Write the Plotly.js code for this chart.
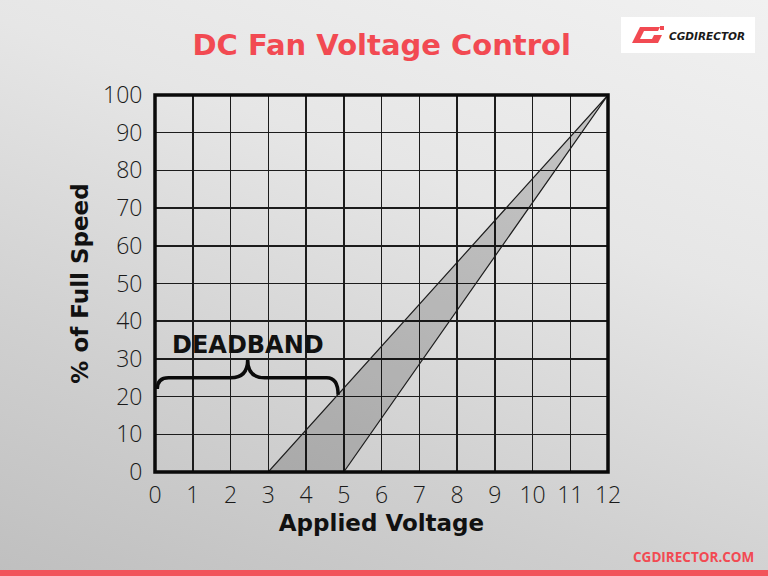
<!DOCTYPE html>
<html>
<head>
<meta charset="utf-8">
<script src="https://cdn.plot.ly/plotly-3.0.1.min.js"></script>
<style>
  html, body { margin: 0; padding: 0; }
  #chart {
    width: 768px; height: 576px;
    background: linear-gradient(200deg, #f1f1f1 0%, #e6e6e6 35%, #d0d0d0 70%, #bfbfbf 100%);
  }
</style>
</head>
<body>
<div id="chart"></div>
<script>
// ---- Data ----
const voltageTicks = [0,1,2,3,4,5,6,7,8,9,10,11,12];
const speedTicks = [0,10,20,30,40,50,60,70,80,90,100];
// Speed band polygon: start voltage range (3V .. 5V) reaching 100% at 12V
const bandVoltage = [3, 12, 5, 3];
const bandSpeed   = [0, 100, 0, 0];
// Deadband brace
const deadbandStart = 0.06;
const deadbandEnd = 4.85;
const deadbandLevel = 25;
const deadbandLabel = "DEADBAND";

const titleText = "DC Fan Voltage Control";
const xTitle = "Applied Voltage";
const yTitle = "% of Full Speed";

// ---- Layout helpers ----
const L = 155, R = 160, T = 95, B = 104;
const W = 768, H = 576;
const pw = W - L - R, ph = H - T - B;
const px = v => (v - L) / pw;
const py = v => (H - B - v) / ph;

const mid = (deadbandStart + deadbandEnd) / 2;
const bracePath =
  `M ${deadbandStart},${deadbandLevel - 3} ` +
  `Q ${deadbandStart},${deadbandLevel} ${deadbandStart + 0.3},${deadbandLevel} ` +
  `L ${mid - 0.45},${deadbandLevel} ` +
  `Q ${mid},${deadbandLevel} ${mid},${deadbandLevel + 4.8} ` +
  `Q ${mid},${deadbandLevel} ${mid + 0.45},${deadbandLevel} ` +
  `L ${deadbandEnd - 0.3},${deadbandLevel} ` +
  `Q ${deadbandEnd},${deadbandLevel} ${deadbandEnd},${deadbandLevel - 4.5}`;

const red = '#f24a52';
const boldFont = 'DejaVu Sans, sans-serif';
const tickFont = {family: 'Open Sans, Lato, sans-serif', size: 23, color: '#1a1a1a', weight: 300};

const traces = [{
  type: 'scatter', mode: 'lines',
  x: bandVoltage, y: bandSpeed,
  fill: 'toself', fillcolor: 'rgba(0,0,0,0.17)',
  line: {color: '#1e1e1e', width: 1.2},
  hoverinfo: 'skip', showlegend: false
}];

const layout = {
  width: W, height: H,
  margin: {l: L, r: R, t: T, b: B, pad: 0},
  paper_bgcolor: 'rgba(0,0,0,0)',
  plot_bgcolor: 'rgba(0,0,0,0)',
  showlegend: false,
  title: {
    text: titleText,
    font: {family: boldFont, size: 29, color: red, weight: 700},
    x: 0.497, xanchor: 'center', y: 0.922, yanchor: 'middle'
  },
  xaxis: {
    range: [0, 12], tickvals: voltageTicks, ticktext: voltageTicks.map(String),
    showgrid: true, gridcolor: '#1c1c1c', gridwidth: 1.5,
    zeroline: false, showline: false,
    ticks: 'outside', ticklen: 2, tickcolor: 'rgba(0,0,0,0)',
    tickfont: tickFont, fixedrange: true,
    title: {text: xTitle, font: {family: boldFont, size: 23, color: '#111', weight: 700}, standoff: 6}
  },
  yaxis: {
    range: [0, 100], tickvals: speedTicks, ticktext: speedTicks.map(String),
    showgrid: true, gridcolor: '#1c1c1c', gridwidth: 1.5,
    zeroline: false, showline: false,
    ticks: 'outside', ticklen: 7, tickcolor: 'rgba(0,0,0,0)',
    tickfont: tickFont, fixedrange: true,
    title: {text: yTitle, font: {family: boldFont, size: 23, color: '#111', weight: 700}, standoff: 7}
  },
  shapes: [
    {type: 'rect', xref: 'paper', yref: 'paper', x0: 0, x1: 1, y0: 0, y1: 1,
     line: {color: '#0a0a0a', width: 3.5}, layer: 'above'},
    {type: 'path', xref: 'x', yref: 'y', path: bracePath,
     line: {color: '#0a0a0a', width: 3.5}, layer: 'above'},
    // logo card
    {type: 'rect', xref: 'paper', yref: 'paper', x0: px(621), x1: px(755), y0: py(53), y1: py(17),
     fillcolor: '#ffffff', line: {width: 0}, layer: 'above'},
    // logo icon
    {type: 'path', xref: 'paper', yref: 'paper',
     path: `M ${px(640)},${py(27)} L ${px(660)},${py(27)} L ${px(658)},${py(31)} L ${px(644)},${py(31)} L ${px(640)},${py(39)} L ${px(652)},${py(39)} L ${px(654)},${py(35)} L ${px(662)},${py(35)} L ${px(658)},${py(43)} L ${px(632)},${py(43)} Z`,
     fillcolor: red, line: {width: 0}, layer: 'above'},
    {type: 'rect', xref: 'paper', yref: 'paper', x0: px(660), x1: px(664), y0: py(30), y1: py(26),
     fillcolor: red, line: {width: 0}, layer: 'above'},
    // bottom red bar
    {type: 'rect', xref: 'paper', yref: 'paper', x0: px(0), x1: px(768), y0: py(576), y1: py(570),
     fillcolor: '#f2545b', line: {width: 0}, layer: 'above'}
  ],
  annotations: [
    {xref: 'x', yref: 'y', x: mid, y: 33.6, text: '<b>' + deadbandLabel + '</b>', showarrow: false,
     font: {family: boldFont, size: 24, color: '#111'}, xanchor: 'center', yanchor: 'middle'},
    {xref: 'paper', yref: 'paper', x: px(667), y: py(35.5), text: '<b><i>CGDIRECTOR</i></b>', showarrow: false,
     font: {family: 'DejaVu Sans, sans-serif', size: 10.5, color: '#1a1a1a'}, xanchor: 'left', yanchor: 'middle'},
    {xref: 'paper', yref: 'paper', x: px(756), y: py(557), text: '<b>CGDIRECTOR.COM</b>', showarrow: false,
     font: {family: 'Open Sans, sans-serif', size: 13.5, color: red}, xanchor: 'right', yanchor: 'middle'}
  ]
};

Plotly.newPlot('chart', traces, layout, {displayModeBar: false, staticPlot: true});
</script>
</body>
</html>
